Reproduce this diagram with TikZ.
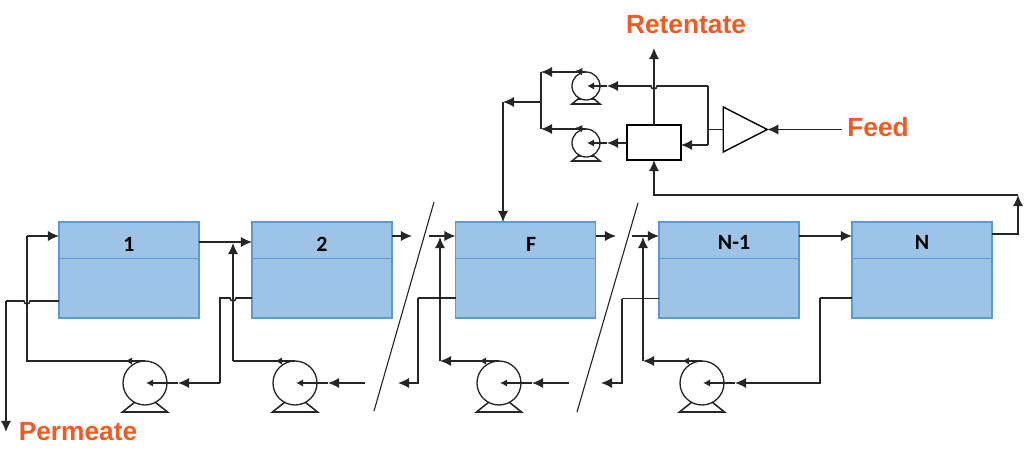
\documentclass[tikz,border=0pt]{standalone}
\usepackage{fontspec}
\setmainfont{Liberation Sans}
\newfontfamily\stagefont{Carlito}
\usetikzlibrary{arrows.meta,calc,shapes.geometric}
\definecolor{stagefill}{HTML}{9DC3E6}
\definecolor{stageline}{HTML}{5B9BD5}
\definecolor{streamtext}{HTML}{F15A22}
\tikzset{
  line/.style={line width=0.38mm,black!85},
  flow/.style={line,-{Latex[length=2.8mm,width=2.6mm]}},
  flowsm/.style={line,-{Latex[length=1.8mm,width=1.9mm]}},
  stagetop/.style={draw=stageline,fill=stagefill,line width=0.4mm,minimum width=35mm,minimum height=9.1mm,inner sep=0pt,outer sep=0pt},
  stagebot/.style={draw=stageline,fill=stagefill,line width=0.4mm,minimum width=35mm,minimum height=14.9mm,inner sep=0pt,outer sep=0pt},
  stagename/.style={inner sep=0pt,font=\stagefont\bfseries\fontsize{15.5}{18}\selectfont},
  pump/.style={circle,draw=black!85,fill=white,line width=0.33mm,minimum size=11mm,inner sep=0pt,outer sep=0pt},
  pumpsm/.style={circle,draw=black!85,fill=white,line width=0.33mm,minimum size=7mm,inner sep=0pt,outer sep=0pt},
  stream/.style={text=streamtext,font=\bfseries\fontsize{18.7}{22}\selectfont,inner sep=0pt},
}
\begin{document}
\begin{tikzpicture}[x=0.25mm,y=-0.25mm]
\useasboundingbox (0,0) rectangle (1024,463);

\foreach \n/\x/\t/\lx/\ly in {1/129/1/129/244,2/322/2/322/244,3/525.5/F/531/244,4/729/N-1/734/242,5/922/N/922/242}{
  \node[stagebot] (b\n) at (\x,288.4) {};
  \node[stagetop] (t\n) at (\x,240.2) {};
  \node[stagename] (n\n) at (\lx,\ly) {\t};
}
\foreach \n/\x in {1/145,2/295,3/499,4/702}{
  \draw[line] (\x-22.5,412) -- (\x+22.5,412) -- (\x+10,402) -- (\x-10,402) -- cycle;
  \node[pump] (p\n) at (\x,383) {};
  \coordinate (i\n) at (\x+33,383);
  \draw[flowsm] (p\n.east) -- (\x+1,383);
  \draw[line] (i\n) -- (p\n.east);
  \draw[flowsm] (p\n.north) -- (\x-20,361);
}
\foreach \n/\y in {5/86,6/143}{
  \draw[line] (572,\y+18) -- (600,\y+18) -- (594,\y+13) -- (578,\y+13) -- cycle;
  \node[pumpsm] (p\n) at (586,\y) {};
  \coordinate (i\n) at (607,\y);
  \draw[flowsm] (p\n.east) -- (587,\y);
  \draw[line] (i\n) -- (p\n.east);
  \draw[flowsm] (p\n.north) -- (575,\y-15);
}

\node[draw=black,fill=white,line width=0.35mm,minimum width=13.5mm,minimum height=8.75mm,inner sep=0pt,outer sep=0pt] (box) at (654,142.5) {};
\node[draw=black,fill=white,line width=0.35mm,isosceles triangle,isosceles triangle apex angle=54,isosceles triangle stretches,minimum width=11.25mm,minimum height=11mm,inner sep=0pt,outer sep=0pt] (amp) at (737,129.5) {};

\node[stream] (ret) at (686,25) {Retentate};
\node[stream] (feed) at (878,127) {Feed};
\node[stream] (per) at (78,432) {Permeate};

\coordinate (a1) at (27,236);
\coordinate (a2) at (233,242);
\coordinate (a3) at (440,236);
\coordinate (a4) at (643,236);
\coordinate (c1) at (220,298);
\coordinate (c3) at (418,298);
\coordinate (c4) at (622,298.5);
\coordinate (c5) at (820,298);
\coordinate (s1) at (365,383);
\coordinate (s3) at (569,383);
\coordinate (d1) at (398,383);
\coordinate (d2) at (601,383);
\coordinate (e1) at (429,236);
\coordinate (e2) at (632,236);
\coordinate (m1) at (412,236);
\coordinate (m2) at (616,236);
\coordinate (r1) at (1018,195);
\coordinate (u1) at (541,102);
\coordinate (w1) at (503,102);
\coordinate (j1) at (708,129.5);
\coordinate (q1) at (654,48);
\coordinate (o1) at (6,432);
\coordinate (f1) at (842,129.5);
\coordinate (l1) at (374,411);
\coordinate (l2) at (434,202);
\coordinate (l3) at (577,412);
\coordinate (l4) at (638,203);

\draw[line,line width=0.28mm] (l1) -- (l2);
\draw[line,line width=0.28mm] (l3) -- (l4);

\draw[line] (p1.north) -- (a1 |- p1.north) -- (a1);
\draw[flow] (a1) -- (t1.west |- a1);
\draw[line] (b1.west |- 0,301) -- (30,301) arc[start angle=0,end angle=180,radius=3] -- (6,301);
\draw[flow] (6,301) -- (o1);

\draw[line] (t1.east |- a2) -- (a2);
\draw[flow] (a2) -- (t2.west |- a2);
\draw[line] (p2.north) -- (a2 |- p2.north);
\draw[flow] (a2 |- p2.north) -- ($(a2)+(0,1)$);
\draw[line] (b2.west |- c1) -- (236,298) arc[start angle=0,end angle=180,radius=3] -- (c1) -- (c1 |- i1);
\draw[flow] (c1 |- i1) -- (i1);

\draw[flow] (s1) -- (i2);
\draw[flow] (t2.east |- m1) -- (m1);
\draw[line] (e1) -- (a3);
\draw[flow] (a3) -- (t3.west |- a3);
\draw[flow] (p3.north) -- (a3 |- p3.north);
\draw[flow] (a3 |- p3.north) -- ($(a3)+(0,1)$);
\draw[line] (b3.west |- c3) -- (c3);
\draw[flow] (c3) -- (c3 |- d1) -- (d1);

\draw[flow] (s3) -- (i3);
\draw[flow] (t3.east |- m2) -- (m2);
\draw[line] (e2) -- (a4);
\draw[flow] (a4) -- (t4.west |- a4);
\draw[flow] (p4.north) -- (a4 |- p4.north);
\draw[flow] (a4 |- p4.north) -- ($(a4)+(0,1)$);
\draw[line] (b4.west |- c4) -- (c4);
\draw[flow] (c4) -- (c4 |- d2) -- (d2);

\draw[flow] (t4.east |- a4) -- (t5.west |- a4);
\draw[line] (b5.west |- c5) -- (c5);
\draw[flow] (c5) -- (c5 |- i4) -- (i4);
\draw[flow] (t5.east |- 0,234) -- (r1 |- 0,234) -- (r1);
\draw[flow] (r1) -- (box.south |- r1) -- (box.south);

\draw[flow] (box.north) -- (q1);
\draw[flow] (j1 |- 0,145) -- (box.east |- 0,145);
\draw[line] (j1 |- p5) -- (j1 |- 0,145);
\draw[line] (amp.west |- j1) -- (j1);
\draw[flow] (f1) -- (amp.apex);
\draw[line] (j1 |- p5) -- (657,86) arc[start angle=0,end angle=180,radius=3] -- (630,86);
\draw[flow] (630,86) -- (i5);
\draw[flow] (box.west |- p6) -- (i6);

\draw[flow] (p5.north) -- (u1 |- p5.north);
\draw[flow] (p6.north) -- (u1 |- p6.north);
\draw[line] (u1 |- p5.north) -- (u1 |- p6.north);
\draw[flow] (u1) -- (w1);
\draw[flow] (w1) -- (w1 |- t3.north);
\end{tikzpicture}
\end{document}
